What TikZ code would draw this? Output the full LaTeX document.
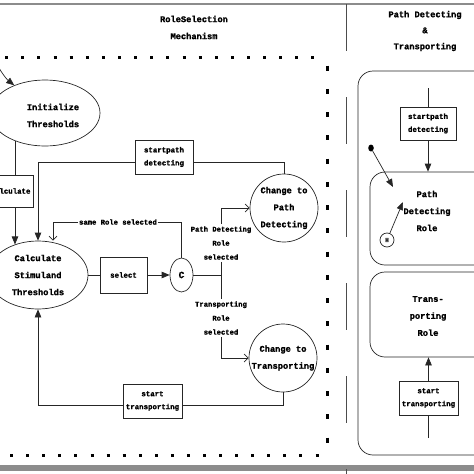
\documentclass[tikz,border=0pt]{standalone}
\usepackage{fontspec}
\newfontfamily\cour{Liberation Mono}[BoldFeatures={FakeBold=1.5}]
\usetikzlibrary{shapes.geometric,arrows.meta,calc}
\begin{document}
\begin{tikzpicture}[x=1pt,y=-1pt,
 ln/.style={draw=black!85,line width=0.7pt},
 fa/.style={-{Triangle[length=8pt,width=6.5pt]}},
 oa/.style={-{Straight Barb[length=4pt,width=8pt]}},
 bigtxt/.style={font=\cour\bfseries\fontsize{8.7}{17}\selectfont,align=center,inner sep=0pt},
 smtxt/.style={font=\cour\bfseries\fontsize{7.4}{13}\selectfont,align=center},
 lbl/.style={font=\cour\bfseries\fontsize{7.2}{14}\selectfont,align=center,inner sep=2pt},
 box/.style={ln,rectangle,inner sep=0pt,smtxt},
 ell/.style={ln,ellipse,inner sep=0pt,bigtxt},
 circ/.style={ln,circle,inner sep=0pt,minimum size=68pt,bigtxt},
 rbox/.style={ln,rectangle,rounded corners=15pt,inner sep=0pt},
 dots/.style={black,line width=3pt},
]
\useasboundingbox (0,0) rectangle (474,474);
\clip (0,0) rectangle (474,474);

% borders and dividers
\draw[black!45, line width=1.5pt] (0,4) -- (474,4);
\draw[black!45, line width=6pt] (0,468) -- (474,468);
\draw[black!70, line width=0.8pt, dash pattern=on 46.5pt off 46.5pt] (346,4) -- (346,474);

% dotted frame
\draw[dots, dash pattern=on 3pt off 13.12pt] (5.2,57) -- (320,57);
\draw[dots, dash pattern=on 3pt off 13.07pt] (10.2,455.7) -- (320,455.7);
\draw[dots, dash pattern=on 5pt off 18.25pt] (327,65.5) -- (327,445);

% titles
\node[bigtxt] (t1n) at (194,27.5) {RoleSelection\\Mechanism};
\node[bigtxt,font=\cour\bfseries\fontsize{8.7}{16}\selectfont] (t2n) at (425,31) {Path Detecting\\\&\\Transporting};

% left part nodes
\node[ln,ellipse,inner sep=0pt,minimum width=110pt,minimum height=66pt] (init) at (45,113) {};
\node[bigtxt] (initt) at (53,115.5) {Initialize\\Thresholds};
\node[box,minimum width=45pt,minimum height=32pt] (calc) at (10.5,191) {Calculate};
\node[box,minimum width=58pt,minimum height=34pt] (sp) at (164,157) {startpath\\detecting};
\node[ell,minimum width=100pt,minimum height=68pt] (stim) at (38,275) {Calculate\\Stimuland\\Thresholds};
\node[box,minimum width=47pt,minimum height=36pt] (sel) at (123.5,275) {select};
\node[ln,ellipse,minimum width=23pt,minimum height=34pt,inner sep=0pt,font=\cour\bfseries\fontsize{9.5}{10}\selectfont] (cc) at (181.5,275) {C};
\node[circ] (cpd) at (284,208) {Change to\\Path\\Detecting};
\node[circ] (ctr) at (283,358) {Change to\\Transporting};
\node[lbl] (pdl) at (221,243) {Path Detecting\\Role\\selected};
\node[lbl] (tdl) at (221,318) {Transporting\\Role\\selected};
\node[box,minimum width=59pt,minimum height=34pt] (st) at (152.5,401) {start\\transporting};

% left connectors
\coordinate (ii) at (-1,68);
\draw[ln,fa] (ii) to[bend right=10] (init.138);
\draw[ln] (init.223) -- (init.223 |- calc.north);
\draw[ln,fa] (calc.south -| stim.127) -- (stim.127);
\draw[ln,fa] ([yshift=-5pt]sp.west) -| (stim.north);
\draw[ln] ([yshift=-5pt]sp.east) -| (cpd.north);
\coordinate (srk) at (53,222);
\draw[ln,oa] (cc.north) |- (srk) -- (srk |- stim.north);
\node[lbl,fill=white,inner sep=1pt] (srl) at (118,222) {same Role selected};
\draw[ln] (stim.east) -- (sel.west);
\draw[ln,fa] (sel.east) -- (cc.west);
\draw[ln] (cc.east) -- (cc.east -| pdl.south);
\draw[ln] (pdl.south) -- (tdl.north);
\draw[ln,oa] (pdl.north) |- (cpd.west);
\draw[ln,oa] (tdl.south) |- (ctr.west);
\draw[ln,fa] ([yshift=-4pt]st.west) -| (stim.south);
\draw[ln] ([yshift=-4pt]st.east) -| (ctr.south);

% right part
\draw[ln,rounded corners=15pt] (358,71) rectangle (500,455);
\node[rbox,minimum width=120pt,minimum height=93pt] (pdr) at (430,218.5) {};
\node[bigtxt] (pdrt) at (427,211) {Path\\Detecting\\Role};
\node[rbox,minimum width=120pt,minimum height=85pt] (tr) at (430,314.5) {};
\node[bigtxt] (trt) at (428,316) {Trans-\\porting\\Role};
\node[box,minimum width=56pt,minimum height=33pt] (sp2) at (428,123.5) {startpath\\detecting};
\node[box,minimum width=59pt,minimum height=34pt] (st2) at (428.5,398) {start\\transporting};
\node[ellipse,fill=black,inner sep=0pt,minimum width=5.5pt,minimum height=7pt] (dot) at (371,148) {};
\node[ln,circle,minimum size=14pt,inner sep=0pt,font=\cour\bfseries\fontsize{6}{7}\selectfont] (hh) at (387,240) {H};

\coordinate (t1) at (428,88);
\draw[ln] (t1) -- (sp2.north);
\draw[ln,fa] (sp2.south) -- (sp2.south |- pdr.north);
\coordinate (b1) at (428.5,438);
\draw[ln] (b1) -- (st2.south);
\draw[ln,fa] (st2.north) -- (st2.north |- tr.south);
\coordinate (dt) at (393,187);
\draw[ln,fa] (dot) -- (dt);
\coordinate (ht) at (403,202);
\draw[ln,fa] (hh) -- (ht);
\end{tikzpicture}
\end{document}
